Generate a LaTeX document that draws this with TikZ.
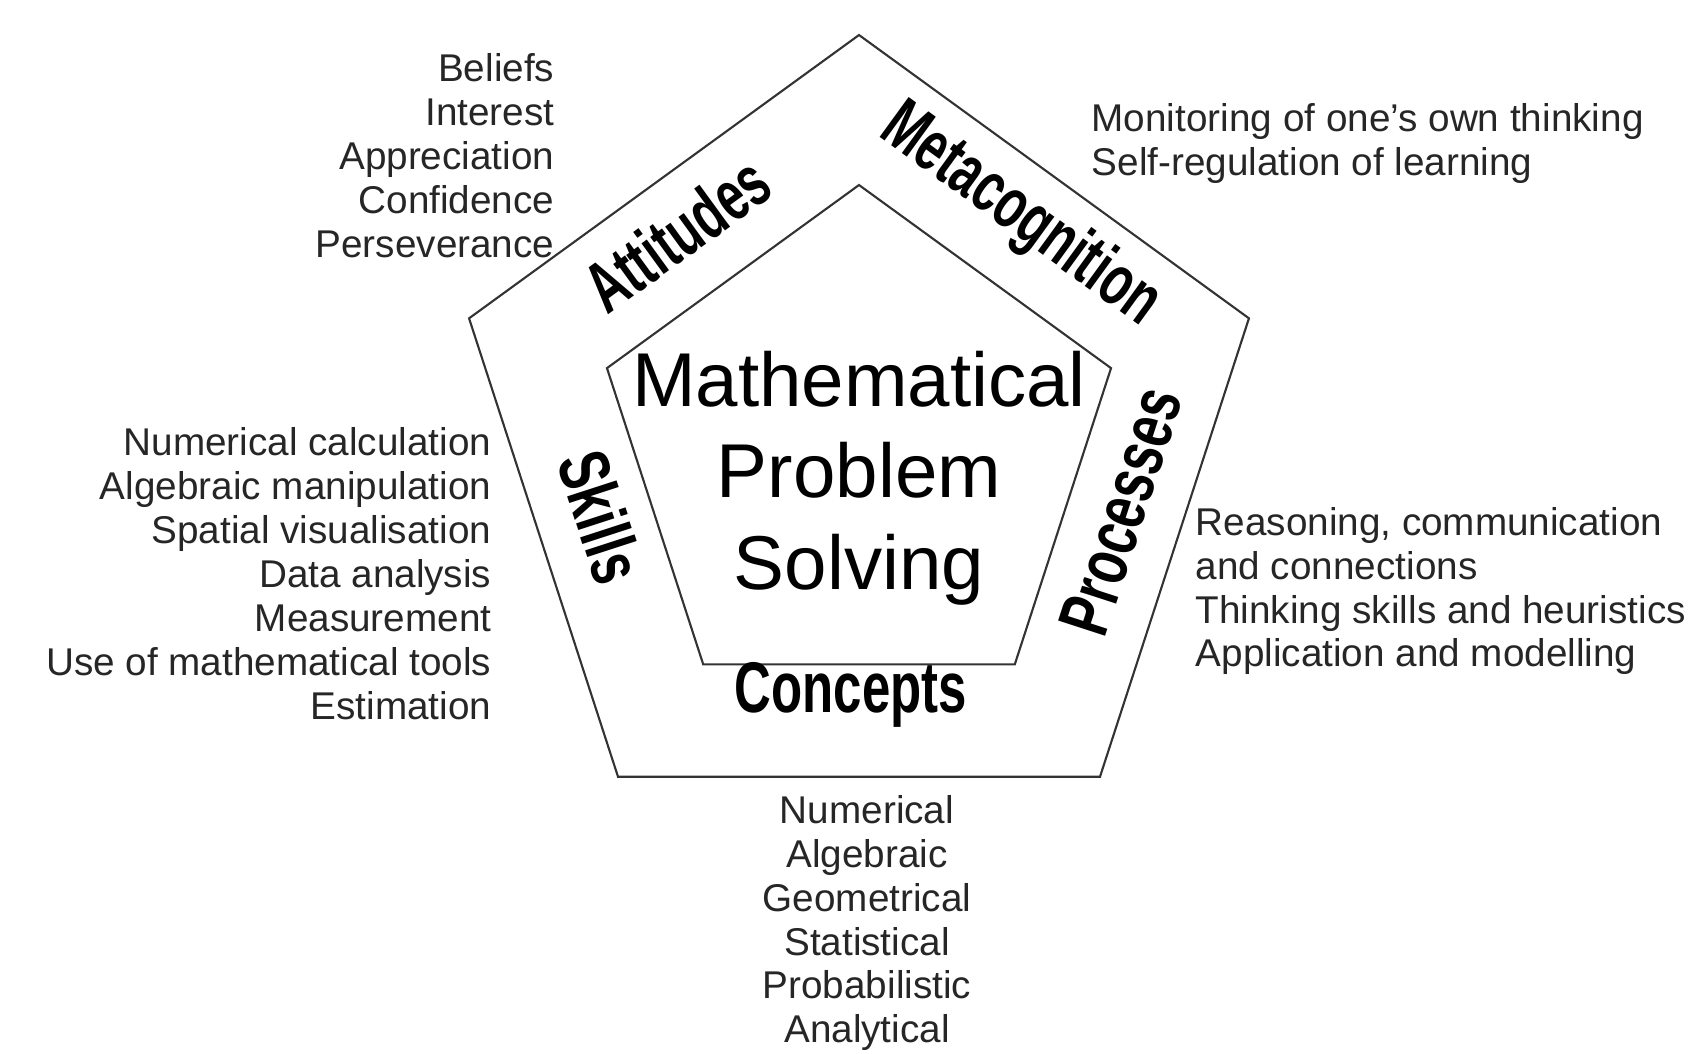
\documentclass[tikz,border=0pt]{standalone}
\usepackage{fontspec}
\setmainfont{Liberation Sans}
\newfontfamily\labelFont{Liberation Sans}[FakeStretch=0.71]
\newfontfamily\narrowLabelFont{Liberation Sans}[FakeStretch=0.67]
\usetikzlibrary{positioning}

\colorlet{edgeColor}{black!80}
\colorlet{listColor}{black!85}
\tikzstyle{pentagonEdge}=[draw=edgeColor,line width=0.6pt,line join=miter]
\tikzstyle{listText}=[inner sep=0pt,text=listColor,font=\fontsize{11}{12.5}\selectfont]
\tikzstyle{sideLabel}=[inner sep=0pt,font=\labelFont\bfseries\fontsize{20.4}{24}\selectfont]
\tikzstyle{upperLabel}=[inner sep=0pt,font=\narrowLabelFont\bfseries\fontsize{20.4}{24}\selectfont]
\tikzstyle{centreTitle}=[inner sep=0pt,align=center,font=\fontsize{21.7}{26}\selectfont]

\begin{document}
\begin{tikzpicture}[x=0.01cm,y=-0.01cm]
\newcommand{\Router}{410}
\newcommand{\Rinner}{265}
\useasboundingbox (0,0) rectangle (1706,1053);
        \foreach \i in {0,...,4} {
                \coordinate (outer\i) 
                at ({859+\Router*sin(72*\i)},{445-\Router*cos(72*\i)});
                \coordinate (inner\i) 
                at ({859+\Rinner*sin(72*\i)},{450-\Rinner*cos(72*\i)});
		}
        \draw[pentagonEdge] (outer0) -- (outer1) -- (outer2) -- (outer3) -- (outer4) -- cycle;
        \draw[pentagonEdge] (inner0) -- (inner1) -- (inner2) -- (inner3) -- (inner4) -- cycle;
        \node[centreTitle] (title) at (859,478) {Mathematical\\Problem\\Solving};
        \node[upperLabel,rotate=36] (attitudes) at (677,234) {Attitudes};
        \node[upperLabel,rotate=-36] (metacognition) at (1020,216) {Metacognition};
        \node[sideLabel,rotate=72] (processes) at (1121,511) {Processes};
        \node[sideLabel,rotate=-72] (skills) at (601,517) {Skills};
        \node[sideLabel] (concepts) at (851,695) {Concepts};
        \node[listText,align=right,anchor=east] (attitudesList) at (555,156) 
                {Beliefs\\Interest\\Appreciation\\Confidence\\Perseverance};
        \node[listText,align=left,anchor=west] (metacognitionList) at (1091,143) 
                {Monitoring of one’s own thinking\\Self-regulation of learning};
        \node[listText,align=right,anchor=east] (skillsList) at (492,574) 
                {Numerical calculation\\Algebraic manipulation\\Spatial visualisation\\Data analysis\\Measurement\\Use of mathematical tools\\Estimation};
        \node[listText,align=left,anchor=west] (processesList) at (1195,591) 
                {Reasoning, communication\\and connections\\Thinking skills and heuristics\\Application and modelling};
        \node[listText,align=center] (conceptsList) at (867,923) 
                {Numerical\\Algebraic\\Geometrical\\Statistical\\Probabilistic\\Analytical};
\end{tikzpicture}
\end{document}
